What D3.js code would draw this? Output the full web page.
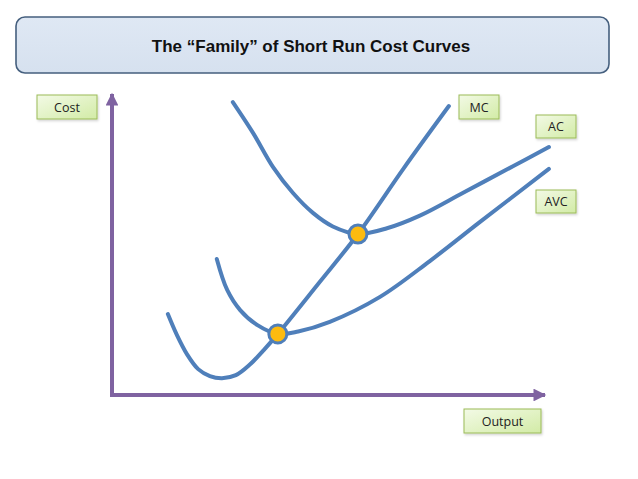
<!DOCTYPE html>
<html lang="en">
<head>
<meta charset="UTF-8">
<title>Short Run Cost Curves</title>
<script src="https://d3js.org/d3.v7.min.js"></script>
<style>
    body { margin: 0; background: #fff; }
    .title { font-family: "Liberation Sans", Arial, sans-serif; font-weight: bold; font-size: 17px; fill: #111; text-anchor: middle; }
    .tag-text { font-family: "Open Sans", sans-serif; font-size: 12.5px; fill: #222; text-anchor: middle; }
    .curve { fill: none; stroke: #4f7fba; stroke-width: 4; stroke-linecap: round; }
    .axis-line { stroke: #7f63a1; stroke-width: 4; }
</style>
</head>
<body>
<script>
// curve data: output (x) vs cost (y), both on a 0-100 scale
const mcOutput = [12.9, 15.0, 17.3, 19.9, 22.6, 25.4, 28.6, 31.9, 35.1, 38.3, 47.6, 56.8, 67.4, 77.8];
const mcCost   = [26.9, 19.9, 13.6, 8.6, 6.3, 5.6, 6.6, 10.2, 15.0, 20.3, 36.9, 53.5, 75.4, 96.0];

const avcOutput = [24.2, 26.6, 29.6, 33.5, 38.3, 43.0, 50.3, 61.9, 73.4, 85.0, 100.9];
const avcCost   = [45.2, 34.9, 28.2, 23.3, 20.3, 21.1, 24.3, 32.6, 44.5, 57.5, 75.1];

const acOutput = [27.9, 32.6, 37.2, 41.8, 46.4, 51.0, 56.8, 63.5, 71.1, 81.1, 92.6, 100.9];
const acCost   = [97.3, 87.0, 75.7, 67.1, 60.5, 56.0, 53.5, 55.4, 59.6, 67.2, 76.0, 82.4];

// where MC crosses the minimum of AVC and AC
const crossOutput = [38.3, 56.8];
const crossCost   = [20.3, 53.5];

const titleText = "The \u201CFamily\u201D of Short Run Cost Curves";
const axisLabels = ["Cost", "Output"];
const curveLabels = ["MC", "AC", "AVC"];

const width = 638, height = 479;

const svg = d3.select("body").append("svg")
    .attr("width", width)
    .attr("height", height);

const defs = svg.append("defs");

// gradients for the boxes
const tg = defs.append("linearGradient").attr("id", "titleGrad")
    .attr("x1", 0).attr("y1", 0).attr("x2", 0).attr("y2", 1);
tg.append("stop").attr("offset", "0%").attr("stop-color", "#dfe8f4");
tg.append("stop").attr("offset", "100%").attr("stop-color", "#d6e1ef");

const gg = defs.append("linearGradient").attr("id", "tagGrad")
    .attr("x1", 0).attr("y1", 0).attr("x2", 1).attr("y2", 1);
gg.append("stop").attr("offset", "0%").attr("stop-color", "#f3fae6");
gg.append("stop").attr("offset", "100%").attr("stop-color", "#d2eba6");

const sh = defs.append("filter").attr("id", "shadow")
    .attr("x", "-20%").attr("y", "-20%").attr("width", "150%").attr("height", "160%");
sh.append("feDropShadow").attr("dx", 1).attr("dy", 1.5).attr("stdDeviation", 1)
    .attr("flood-color", "#000").attr("flood-opacity", 0.18);

// arrow heads
["arrowUp", "arrowRight"].forEach(function (id) {
    defs.append("marker")
        .attr("id", id)
        .attr("viewBox", "0 0 10 10")
        .attr("refX", 9).attr("refY", 5)
        .attr("markerWidth", 3.6).attr("markerHeight", 3.2)
        .attr("markerUnits", "strokeWidth")
        .attr("orient", "auto")
        .append("path")
        .attr("d", "M0,0 L10,5 L0,10 z")
        .attr("fill", "#7f63a1");
});

// title box
svg.append("rect")
    .attr("x", 16).attr("y", 17)
    .attr("width", 593).attr("height", 56)
    .attr("rx", 9).attr("ry", 9)
    .attr("fill", "url(#titleGrad)")
    .attr("stroke", "#455f7e")
    .attr("stroke-width", 1.6);

svg.append("text")
    .attr("class", "title")
    .attr("x", 311).attr("y", 52)
    .text(titleText);

// scales
const x = d3.scaleLinear().domain([0, 100]).range([112, 545]);
const y = d3.scaleLinear().domain([0, 100]).range([395, 94]);

// axes
svg.append("line")
    .attr("class", "axis-line")
    .attr("x1", x(0)).attr("y1", y(0) + 2)
    .attr("x2", x(0)).attr("y2", y(100))
    .attr("marker-end", "url(#arrowUp)");

svg.append("line")
    .attr("class", "axis-line")
    .attr("x1", x(0) - 2).attr("y1", y(0))
    .attr("x2", x(100)).attr("y2", y(0))
    .attr("marker-end", "url(#arrowRight)");

// curves
const line = d3.line()
    .x(d => x(d[0]))
    .y(d => y(d[1]))
    .curve(d3.curveCatmullRom.alpha(0.5));

const curves = [
    d3.zip(mcOutput, mcCost),
    d3.zip(avcOutput, avcCost),
    d3.zip(acOutput, acCost)
];

svg.selectAll(".curve")
    .data(curves)
    .enter().append("path")
    .attr("class", "curve")
    .attr("d", line);

// intersection dots
svg.selectAll(".dot")
    .data(d3.zip(crossOutput, crossCost))
    .enter().append("circle")
    .attr("class", "dot")
    .attr("cx", d => x(d[0]))
    .attr("cy", d => y(d[1]))
    .attr("r", 9)
    .attr("fill", "#fdbb0f")
    .attr("stroke", "#4f7fba")
    .attr("stroke-width", 3);

// label boxes
const tags = [
    { text: axisLabels[0], x: 37, y: 95, w: 60, h: 24 },
    { text: axisLabels[1], x: 464, y: 409, w: 77, h: 24 },
    { text: curveLabels[0], x: 459, y: 95, w: 40, h: 24 },
    { text: curveLabels[1], x: 536, y: 115, w: 40, h: 23 },
    { text: curveLabels[2], x: 536, y: 190, w: 40, h: 23 }
];

const tag = svg.selectAll(".tag")
    .data(tags)
    .enter().append("g")
    .attr("class", "tag");

tag.append("rect")
    .attr("x", d => d.x).attr("y", d => d.y)
    .attr("width", d => d.w).attr("height", d => d.h)
    .attr("fill", "url(#tagGrad)")
    .attr("stroke", "#9bbb59")
    .attr("stroke-width", 1)
    .attr("filter", "url(#shadow)");

tag.append("text")
    .attr("class", "tag-text")
    .attr("x", d => d.x + d.w / 2)
    .attr("y", d => d.y + d.h / 2 + 4.5)
    .text(d => d.text);
</script>
</body>
</html>
